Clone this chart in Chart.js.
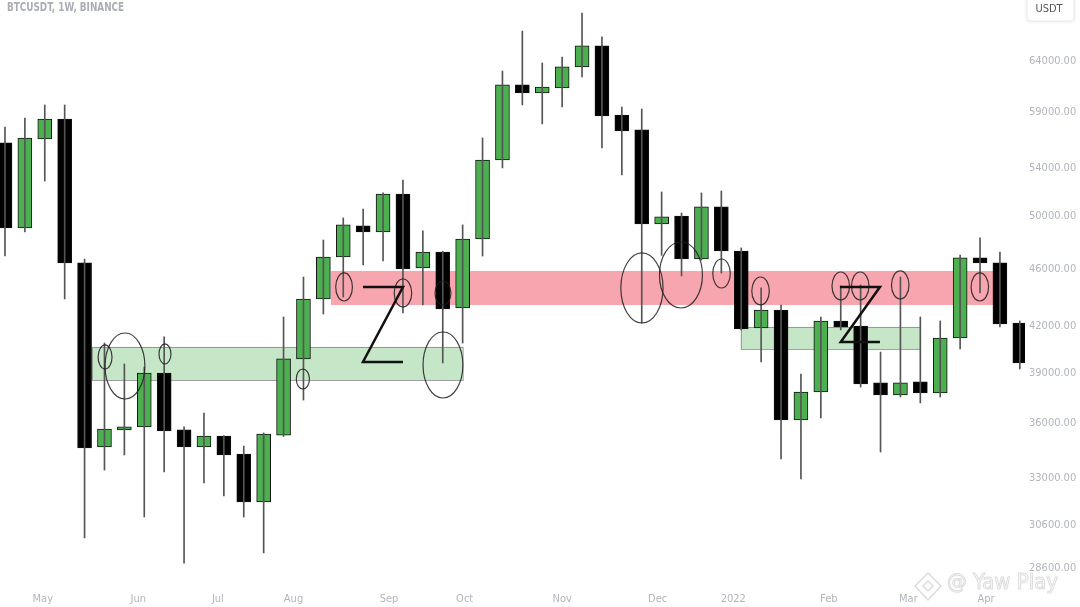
<!DOCTYPE html>
<html>
<head>
<meta charset="utf-8">
<script src="https://cdn.jsdelivr.net/npm/chart.js@4.4.1/dist/chart.umd.min.js"></script>
<style>
  html, body { margin: 0; padding: 0; background: #fff; }
  #wrap { width: 1080px; height: 607px; position: relative; }
</style>
</head>
<body>
<div id="wrap"><canvas id="myChart"></canvas></div>
<script>
// weekly BTCUSDT candles
const opens  = [56190, 49090, 56540, 58370, 46440, 34670, 35620, 35790, 38990, 35620, 34670, 35280, 34280, 31770, 35330, 39870, 43850, 46880, 49250, 48780, 51810, 46070, 47250, 43230, 48240, 54690, 61610, 60830, 61320, 63400, 65550, 58740, 57360, 49400, 50030, 46730, 50760, 47330, 41880, 43090, 36190, 37830, 42350, 42010, 38380, 37650, 38440, 37770, 41220, 46810, 46440, 42210];
const highs  = [57630, 58460, 59680, 59680, 46730, 40890, 39550, 39360, 41290, 35790, 36590, 35300, 34720, 35450, 42620, 45410, 48160, 49880, 50590, 51900, 52980, 48860, 47300, 49330, 56630, 62990, 67120, 63800, 64410, 69070, 66490, 59490, 59300, 51980, 50270, 51900, 52060, 47560, 44630, 43440, 38930, 42620, 44770, 44840, 40310, 45410, 42620, 42350, 47030, 48320, 47250, 42350];
const lows   = [46950, 48780, 52890, 43850, 30000, 33420, 34230, 31020, 33320, 28830, 32740, 32070, 31020, 29300, 35250, 37350, 42820, 43990, 46290, 46580, 42890, 43440, 39620, 40890, 46950, 54000, 59680, 57910, 59490, 62400, 55740, 53400, 42210, 47000, 45490, 46650, 45700, 41750, 39680, 34010, 32950, 36300, 41750, 38130, 34390, 37530, 37180, 37530, 40510, 44280, 41950, 39240];
const closes = [49090, 56630, 58370, 46440, 34610, 35670, 35790, 38990, 35560, 34670, 35280, 34230, 31770, 35390, 39870, 43850, 46880, 49330, 48780, 51810, 45990, 47250, 43160, 48240, 54690, 61610, 60830, 61410, 63400, 65550, 58650, 57270, 49400, 49960, 46730, 50760, 47330, 41810, 43090, 36190, 37830, 42350, 41950, 38320, 37650, 38380, 37770, 41220, 46810, 46440, 42150, 39620];

// axis labels
const monthPos   = [1.9, 6.7, 10.7, 14.5, 19.3, 23.1, 28.0, 32.8, 36.6, 41.4, 45.4, 49.3];
const monthNames = ['May', 'Jun', 'Jul', 'Aug', 'Sep', 'Oct', 'Nov', 'Dec', '2022', 'Feb', 'Mar', 'Apr'];
const yTicks = [64000, 59000, 54000, 50000, 46000, 42000, 39000, 36000, 33000, 30600, 28600];

// drawings: [week from, week to, price top, price bottom]
const redZone = [16.38, 49.75, 45849, 43439];
const greenZones = [[4.37, 23.0, 40635, 38559], [36.98, 45.98, 41947, 40506]];
// ellipses: [week, half width in weeks, price top, price bottom]
const ellipses = [
    [5.03, 0.35, 40765, 39239], [6.03, 1.0, 41549, 37413], [8.04, 0.3, 40830, 39552],
    [14.97, 0.33, 39239, 38012], [17.04, 0.42, 45704, 43714], [20.0, 0.44, 45269, 43301],
    [22.01, 0.4, 45126, 43439], [22.01, 1.0, 41615, 37473], [32.01, 1.06, 47179, 42214],
    [33.97, 1.08, 48009, 43232], [36.01, 0.44, 46731, 44627], [37.97, 0.44, 45414, 43439],
    [42.0, 0.44, 45776, 43784], [42.98, 0.44, 45776, 43784], [44.99, 0.44, 45849, 43854],
    [48.99, 0.44, 45704, 43714]
];
// "Z" strokes: [week, price] points
const zLines = [
    [[17.99, 44699], [20.0, 44699], [17.99, 39678], [20.0, 39678]],
    [[41.96, 44699], [43.97, 44699], [42.0, 40959], [43.97, 40959]]
];

const FONT = "'Liberation Sans Narrow', 'DejaVu Sans Condensed', sans-serif";
const UP = '#4caf50';
const DOWN = '#000000';

const wickData = lows.map((l, i) => ({ x: i, y: [l, highs[i]] }));
const bodyData = opens.map((o, i) => ({ x: i, y: [o, closes[i]] }));
const bodyColors = opens.map((o, i) => closes[i] >= o ? UP : DOWN);

// narrow text by squeezing it horizontally
function squeezedText(ctx, text, x, y, sx, stroke) {
    ctx.save();
    ctx.translate(x, y);
    ctx.scale(sx, 1);
    if (stroke) ctx.strokeText(text, 0, 0); else ctx.fillText(text, 0, 0);
    ctx.restore();
}

const drawings = {
    id: 'drawings',
    beforeDatasetsDraw(chart) {
        const { ctx, chartArea, scales: { x, y } } = chart;
        ctx.save();
        ctx.beginPath();
        ctx.rect(chartArea.left, chartArea.top, chartArea.right - chartArea.left, chartArea.bottom - chartArea.top);
        ctx.clip();
        // red zone
        ctx.fillStyle = 'rgba(242, 110, 124, 0.62)';
        let x0 = x.getPixelForValue(redZone[0]), x1 = x.getPixelForValue(redZone[1]);
        let y0 = y.getPixelForValue(redZone[2]), y1 = y.getPixelForValue(redZone[3]);
        ctx.fillRect(x0, y0, x1 - x0, y1 - y0);
        // green zones
        for (const z of greenZones) {
            x0 = x.getPixelForValue(z[0]); x1 = x.getPixelForValue(z[1]);
            y0 = y.getPixelForValue(z[2]); y1 = y.getPixelForValue(z[3]);
            ctx.fillStyle = 'rgba(129, 199, 132, 0.45)';
            ctx.fillRect(x0, y0, x1 - x0, y1 - y0);
            ctx.strokeStyle = 'rgba(120, 120, 120, 0.7)';
            ctx.lineWidth = 1;
            ctx.strokeRect(x0 + 0.5, y0 + 0.5, x1 - x0, y1 - y0);
        }
        ctx.restore();
    },
    afterDatasetsDraw(chart) {
        const { ctx, scales: { x, y } } = chart;
        ctx.save();
        // ellipses
        ctx.strokeStyle = 'rgba(30, 30, 30, 0.85)';
        ctx.lineWidth = 1.2;
        for (const e of ellipses) {
            const cx = x.getPixelForValue(e[0]);
            const rx = x.getPixelForValue(e[0] + e[1]) - cx;
            const yt = y.getPixelForValue(e[2]), yb = y.getPixelForValue(e[3]);
            ctx.beginPath();
            ctx.ellipse(cx, (yt + yb) / 2, rx, (yb - yt) / 2, 0, 0, Math.PI * 2);
            ctx.stroke();
        }
        // Z strokes
        ctx.strokeStyle = '#111';
        ctx.lineWidth = 2.5;
        ctx.lineJoin = 'miter';
        for (const line of zLines) {
            ctx.beginPath();
            line.forEach((p, i) => {
                const px = x.getPixelForValue(p[0]), py = y.getPixelForValue(p[1]);
                if (i == 0) ctx.moveTo(px, py); else ctx.lineTo(px, py);
            });
            ctx.stroke();
        }
        ctx.restore();
    },
    afterDraw(chart) {
        const ctx = chart.ctx;
        ctx.save();
        // header
        ctx.fillStyle = '#aaadb5';
        ctx.font = 'bold 12px ' + FONT;
        ctx.textBaseline = 'middle';
        ctx.textAlign = 'left';
        squeezedText(ctx, 'BTCUSDT, 1W, BINANCE', 7, 8, 0.82);
        // currency box
        ctx.shadowColor = 'rgba(0,0,0,0.12)';
        ctx.shadowBlur = 4;
        ctx.fillStyle = '#fff';
        ctx.beginPath();
        ctx.roundRect(1027, -4, 47, 25, 3);
        ctx.fill();
        ctx.shadowBlur = 0;
        ctx.strokeStyle = '#e6e8ee';
        ctx.lineWidth = 1;
        ctx.stroke();
        ctx.fillStyle = '#555';
        ctx.font = '11px ' + FONT;
        ctx.textAlign = 'center';
        ctx.fillText('USDT', 1049, 9);
        // watermark
        ctx.globalAlpha = 0.5;
        ctx.strokeStyle = '#b9b9b9';
        ctx.lineWidth = 1.5;
        ctx.beginPath();
        ctx.moveTo(928, 573); ctx.lineTo(941, 586); ctx.lineTo(928, 600); ctx.lineTo(915, 586); ctx.closePath();
        ctx.stroke();
        ctx.beginPath();
        ctx.moveTo(928, 581); ctx.lineTo(933, 586); ctx.lineTo(928, 591); ctx.lineTo(923, 586); ctx.closePath();
        ctx.stroke();
        ctx.font = '22px ' + FONT;
        ctx.textAlign = 'left';
        ctx.lineWidth = 1;
        squeezedText(ctx, '@ Yaw Play', 947, 583, 1.0, true);
        ctx.restore();
    }
};

function createChart() {
    const cfg = {
        type: 'bar',
        data: {
            datasets: [
                {
                    label: 'wick',
                    data: wickData,
                    backgroundColor: '#555',
                    barThickness: 1,
                    borderWidth: 0
                },
                {
                    label: 'body',
                    data: bodyData,
                    backgroundColor: bodyColors,
                    borderColor: '#111',
                    borderWidth: 1,
                    borderSkipped: false,
                    barThickness: 14
                }
            ]
        },
        options: {
            responsive: true,
            maintainAspectRatio: false,
            animation: false,
            grouped: false,
            layout: { padding: 0 },
            plugins: {
                legend: { display: false },
                tooltip: { enabled: false }
            },
            scales: {
                x: {
                    type: 'linear',
                    min: -0.25,
                    max: 51.26,
                    offset: false,
                    grid: { display: false, drawTicks: false },
                    border: { display: false },
                    afterBuildTicks: (scale) => { scale.ticks = monthPos.map(v => ({ value: v })); },
                    afterFit: (scale) => {
                        scale.height = 17;
                        scale.paddingLeft = 0;
                        scale.paddingRight = 0;
                    },
                    ticks: {
                        autoSkip: false,
                        maxRotation: 0,
                        padding: 3,
                        color: '#b2b5bd',
                        font: { family: FONT, size: 11 },
                        callback: (v, i) => monthNames[i]
                    }
                },
                y: {
                    type: 'logarithmic',
                    position: 'right',
                    min: 27623,
                    max: 70509,
                    grid: { display: false, drawTicks: false },
                    border: { display: false },
                    afterBuildTicks: (scale) => { scale.ticks = yTicks.map(v => ({ value: v })); },
                    afterFit: (scale) => {
                        scale.width = 55;
                        scale.paddingTop = 0;
                        scale.paddingBottom = 0;
                    },
                    ticks: {
                        padding: 4,
                        color: '#b2b5bd',
                        font: { family: FONT, size: 11 },
                        callback: (v) => Number(v).toFixed(2)
                    }
                }
            }
        },
        plugins: [drawings]
    };
    return new Chart(document.getElementById('myChart'), cfg);
}

const chart = createChart();
</script>
</body>
</html>
